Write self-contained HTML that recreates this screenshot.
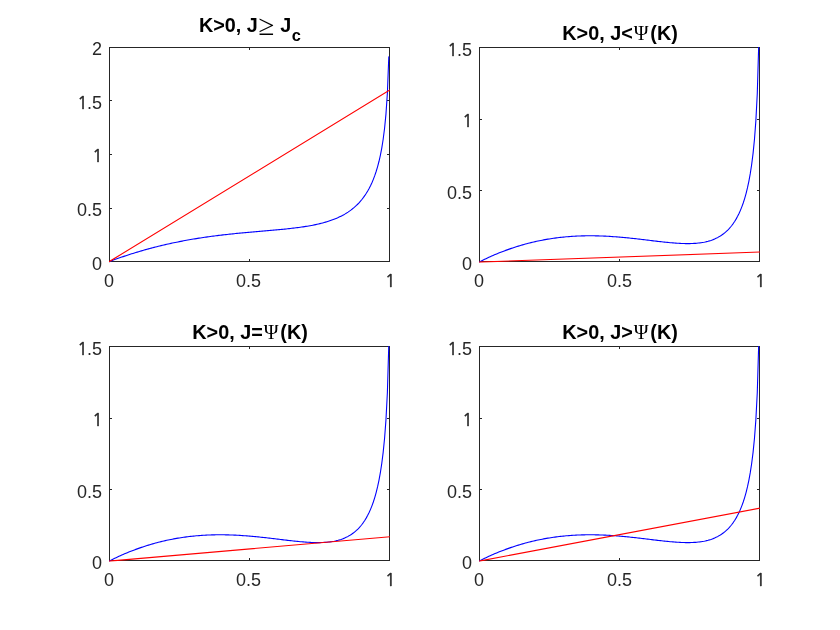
<!DOCTYPE html><html><head><meta charset="utf-8"><title>figure</title><style>
html,body{margin:0;padding:0;background:#fff;}
svg{display:block;}
text{font-family:"Liberation Sans",sans-serif;fill:#262626;}
.t{font-size:18px;}
.one{font-family:"NanumGothic","Liberation Sans",sans-serif;font-size:17.3px;stroke:#262626;stroke-width:0.5px;}
.ti{font-size:19.8px;font-weight:bold;fill:#000;}
.psi{font-family:"Liberation Serif","DejaVu Serif",serif;font-weight:normal;font-size:20px;fill:#000;}
.geq{font-family:"Liberation Serif","DejaVu Serif",serif;font-weight:normal;font-size:29px;fill:#000;}
.sub{font-size:16.4px;font-weight:bold;fill:#000;}
</style></head><body>
<svg width="840" height="630" viewBox="0 0 840 630">
<rect x="0" y="0" width="840" height="630" fill="#fff"/>
<clipPath id="c1"><rect x="109.0" y="47.0" width="281.0" height="215.7"/></clipPath>
<g stroke="#262626" stroke-width="1" fill="none">
<rect x="109.5" y="47.5" width="280.0" height="214.0"/>
<path d="M249.5 261.5 v-2.5 M249.5 47.5 v2.5 M109.5 208.5 h2.5 M389.5 208.5 h-2.5 M109.5 154.5 h2.5 M389.5 154.5 h-2.5 M109.5 100.5 h2.5 M389.5 100.5 h-2.5"/>
</g>
<g clip-path="url(#c1)" fill="none" stroke-width="1.1" stroke-linejoin="round" stroke-linecap="round">
<polyline points="109.10,261.70 110.51,261.17 111.91,260.64 113.32,260.11 114.72,259.60 116.13,259.09 117.53,258.58 118.94,258.08 120.34,257.59 121.75,257.10 123.16,256.62 124.56,256.14 125.97,255.67 127.37,255.20 128.78,254.74 130.18,254.29 131.59,253.84 132.99,253.40 134.40,252.96 135.80,252.53 137.21,252.10 138.62,251.68 140.02,251.26 141.43,250.85 142.83,250.44 144.24,250.04 145.64,249.65 147.05,249.26 148.45,248.87 149.86,248.49 151.26,248.12 152.67,247.75 154.08,247.38 155.48,247.02 156.89,246.67 158.29,246.32 159.70,245.97 161.10,245.63 162.51,245.30 163.91,244.97 165.32,244.64 166.73,244.32 168.13,244.00 169.54,243.69 170.94,243.38 172.35,243.08 173.75,242.78 175.16,242.49 176.56,242.20 177.97,241.92 179.38,241.64 180.78,241.36 182.19,241.09 183.59,240.82 185.00,240.56 186.40,240.30 187.81,240.05 189.21,239.80 190.62,239.55 192.02,239.31 193.43,239.07 194.84,238.84 196.24,238.61 197.65,238.38 199.05,238.16 200.46,237.94 201.86,237.73 203.27,237.52 204.67,237.31 206.08,237.11 207.49,236.91 208.89,236.71 210.30,236.51 211.70,236.32 213.11,236.14 214.51,235.95 215.92,235.77 217.32,235.60 218.73,235.42 220.13,235.25 221.54,235.08 222.95,234.92 224.35,234.75 225.76,234.59 227.16,234.44 228.57,234.28 229.97,234.13 231.38,233.98 232.78,233.83 234.19,233.69 235.60,233.55 237.00,233.40 238.41,233.27 239.81,233.13 241.22,232.99 242.62,232.86 244.03,232.73 245.43,232.60 246.84,232.47 248.24,232.34 249.65,232.22 251.06,232.09 252.46,231.97 253.87,231.85 255.27,231.72 256.68,231.60 258.08,231.48 259.49,231.36 260.89,231.24 262.30,231.12 263.71,231.00 265.11,230.88 266.52,230.76 267.92,230.64 269.33,230.52 270.73,230.39 272.14,230.27 273.54,230.15 274.95,230.02 276.35,229.89 277.76,229.76 279.17,229.63 280.57,229.50 281.98,229.36 283.38,229.22 284.79,229.08 286.19,228.94 287.60,228.79 289.00,228.64 290.41,228.48 291.82,228.32 293.22,228.16 294.63,227.99 296.03,227.81 297.44,227.63 298.84,227.45 300.25,227.26 301.65,227.06 303.06,226.85 304.46,226.64 305.87,226.41 307.28,226.18 308.68,225.94 310.09,225.70 311.49,225.44 312.90,225.17 314.30,224.88 315.71,224.59 317.11,224.28 318.52,223.96 319.93,223.63 321.33,223.28 322.74,222.92 324.14,222.53 325.55,222.13 326.95,221.71 328.36,221.27 329.76,220.81 331.17,220.33 332.57,219.82 333.98,219.29 335.39,218.73 336.79,218.14 338.20,217.52 339.60,216.86 341.01,216.17 342.41,215.45 343.82,214.68 345.22,213.87 346.63,213.01 348.03,212.11 349.44,211.15 350.85,210.13 352.25,209.05 353.66,207.91 355.06,206.69 356.47,205.39 357.87,204.00 359.28,202.52 360.68,200.93 362.09,199.23 363.50,197.40 364.90,195.43 366.31,193.29 367.71,190.98 369.12,188.46 370.52,185.71 371.93,182.69 373.33,179.36 374.74,175.66 376.14,171.52 377.55,166.85 378.96,161.51 380.36,155.34 381.77,148.06 383.17,139.28 384.58,128.30 385.98,113.87 387.39,93.11 388.79,56.90" stroke="#0000ff"/>
<polyline points="109.10,261.70 390.20,89.73" stroke="#ff0000"/>
</g>
<text class="t" x="104.0" y="287.0">0</text>
<text class="t" x="235.99" y="287.0">0.5</text>
<text class="one" x="385.0" y="287.0">1</text>
<text class="t" x="91.99" y="270.0">0</text>
<text class="t" x="76.98" y="216.0">0.5</text>
<text class="one" x="92.19" y="162.0">1</text>
<text class="one" x="77.18" y="109.0">1</text>
<text class="t" x="86.99" y="109.0">.5</text>
<text class="t" x="91.99" y="55.0">2</text>
<text class="ti" x="199.0" y="31.8">K&gt;0, J</text>
<text class="geq" x="258.6" y="35">≥</text>
<text class="ti" x="280.2" y="31.8">J</text>
<text class="sub" x="291.7" y="40.8">c</text>
<clipPath id="c2"><rect x="479.0" y="47.0" width="281.0" height="215.7"/></clipPath>
<g stroke="#262626" stroke-width="1" fill="none">
<rect x="479.5" y="47.5" width="280.0" height="214.0"/>
<path d="M619.5 261.5 v-2.5 M619.5 47.5 v2.5 M479.5 190.5 h2.5 M759.5 190.5 h-2.5 M479.5 119.5 h2.5 M759.5 119.5 h-2.5"/>
</g>
<g clip-path="url(#c2)" fill="none" stroke-width="1.1" stroke-linejoin="round" stroke-linecap="round">
<polyline points="479.00,262.10 480.41,261.39 481.81,260.69 483.22,260.00 484.62,259.32 486.03,258.65 487.43,257.99 488.84,257.35 490.24,256.71 491.65,256.08 493.06,255.47 494.46,254.86 495.87,254.27 497.27,253.68 498.68,253.11 500.08,252.54 501.49,251.99 502.89,251.44 504.30,250.91 505.70,250.38 507.11,249.87 508.52,249.37 509.92,248.87 511.33,248.39 512.73,247.92 514.14,247.45 515.54,247.00 516.95,246.55 518.35,246.12 519.76,245.69 521.16,245.28 522.57,244.87 523.98,244.48 525.38,244.09 526.79,243.71 528.19,243.34 529.60,242.99 531.00,242.64 532.41,242.30 533.81,241.97 535.22,241.65 536.63,241.33 538.03,241.03 539.44,240.74 540.84,240.45 542.25,240.18 543.65,239.91 545.06,239.65 546.46,239.40 547.87,239.16 549.27,238.93 550.68,238.71 552.09,238.50 553.49,238.29 554.90,238.09 556.30,237.91 557.71,237.73 559.11,237.55 560.52,237.39 561.92,237.24 563.33,237.09 564.74,236.95 566.14,236.82 567.55,236.70 568.95,236.58 570.36,236.48 571.76,236.38 573.17,236.29 574.57,236.21 575.98,236.13 577.38,236.06 578.79,236.00 580.20,235.95 581.60,235.90 583.01,235.86 584.41,235.83 585.82,235.81 587.22,235.79 588.63,235.78 590.03,235.78 591.44,235.78 592.85,235.79 594.25,235.81 595.66,235.83 597.06,235.86 598.47,235.90 599.87,235.94 601.28,235.99 602.68,236.04 604.09,236.10 605.50,236.17 606.90,236.24 608.31,236.32 609.71,236.40 611.12,236.49 612.52,236.58 613.93,236.68 615.33,236.78 616.74,236.89 618.14,237.00 619.55,237.12 620.96,237.24 622.36,237.37 623.77,237.50 625.17,237.63 626.58,237.77 627.98,237.91 629.39,238.06 630.79,238.20 632.20,238.35 633.61,238.51 635.01,238.66 636.42,238.82 637.82,238.98 639.23,239.15 640.63,239.31 642.04,239.48 643.44,239.64 644.85,239.81 646.25,239.98 647.66,240.15 649.07,240.32 650.47,240.49 651.88,240.66 653.28,240.83 654.69,241.00 656.09,241.17 657.50,241.33 658.90,241.50 660.31,241.66 661.72,241.82 663.12,241.97 664.53,242.12 665.93,242.27 667.34,242.41 668.74,242.55 670.15,242.68 671.55,242.81 672.96,242.92 674.36,243.04 675.77,243.14 677.18,243.24 678.58,243.32 679.99,243.40 681.39,243.46 682.80,243.52 684.20,243.56 685.61,243.59 687.01,243.60 688.42,243.60 689.83,243.58 691.23,243.55 692.64,243.50 694.04,243.42 695.45,243.33 696.85,243.21 698.26,243.07 699.66,242.91 701.07,242.71 702.47,242.49 703.88,242.24 705.29,241.95 706.69,241.62 708.10,241.26 709.50,240.86 710.91,240.41 712.31,239.92 713.72,239.37 715.12,238.77 716.53,238.12 717.93,237.39 719.34,236.60 720.75,235.74 722.15,234.80 723.56,233.76 724.96,232.64 726.37,231.41 727.77,230.07 729.18,228.60 730.58,226.99 731.99,225.24 733.40,223.32 734.80,221.20 736.21,218.88 737.61,216.32 739.02,213.50 740.42,210.36 741.83,206.87 743.23,202.96 744.64,198.57 746.05,193.59 747.45,187.91 748.86,181.35 750.26,173.66 751.67,164.52 753.07,153.36 754.48,139.29 755.88,120.61 757.29,93.50 758.69,45.79" stroke="#0000ff"/>
<polyline points="479.00,262.10 760.10,252.07" stroke="#ff0000"/>
</g>
<text class="t" x="474.0" y="287.0">0</text>
<text class="t" x="606.99" y="287.0">0.5</text>
<text class="one" x="755.0" y="287.0">1</text>
<text class="t" x="461.99" y="270.0">0</text>
<text class="t" x="446.98" y="199.0">0.5</text>
<text class="one" x="462.19" y="127.0">1</text>
<text class="one" x="447.18" y="56.0">1</text>
<text class="t" x="456.99" y="56.0">.5</text>
<text class="ti" x="562.3" y="39.8">K&gt;0, J&lt;</text>
<text class="psi" x="633.7" y="39.699999999999996">Ψ</text>
<text class="ti" x="650.3" y="39.8">(K)</text>
<clipPath id="c3"><rect x="109.0" y="346.0" width="281.0" height="215.7"/></clipPath>
<g stroke="#262626" stroke-width="1" fill="none">
<rect x="109.5" y="346.5" width="280.0" height="214.0"/>
<path d="M249.5 560.5 v-2.5 M249.5 346.5 v2.5 M109.5 489.5 h2.5 M389.5 489.5 h-2.5 M109.5 418.5 h2.5 M389.5 418.5 h-2.5"/>
</g>
<g clip-path="url(#c3)" fill="none" stroke-width="1.1" stroke-linejoin="round" stroke-linecap="round">
<polyline points="109.10,561.10 110.51,560.39 111.91,559.69 113.32,559.00 114.72,558.32 116.13,557.65 117.53,556.99 118.94,556.35 120.34,555.71 121.75,555.08 123.16,554.47 124.56,553.86 125.97,553.27 127.37,552.68 128.78,552.11 130.18,551.54 131.59,550.99 132.99,550.44 134.40,549.91 135.80,549.38 137.21,548.87 138.62,548.37 140.02,547.87 141.43,547.39 142.83,546.92 144.24,546.45 145.64,546.00 147.05,545.55 148.45,545.12 149.86,544.69 151.26,544.28 152.67,543.87 154.08,543.48 155.48,543.09 156.89,542.71 158.29,542.34 159.70,541.99 161.10,541.64 162.51,541.30 163.91,540.97 165.32,540.65 166.73,540.33 168.13,540.03 169.54,539.74 170.94,539.45 172.35,539.18 173.75,538.91 175.16,538.65 176.56,538.40 177.97,538.16 179.38,537.93 180.78,537.71 182.19,537.50 183.59,537.29 185.00,537.09 186.40,536.91 187.81,536.73 189.21,536.55 190.62,536.39 192.02,536.24 193.43,536.09 194.84,535.95 196.24,535.82 197.65,535.70 199.05,535.58 200.46,535.48 201.86,535.38 203.27,535.29 204.67,535.21 206.08,535.13 207.49,535.06 208.89,535.00 210.30,534.95 211.70,534.90 213.11,534.86 214.51,534.83 215.92,534.81 217.32,534.79 218.73,534.78 220.13,534.78 221.54,534.78 222.95,534.79 224.35,534.81 225.76,534.83 227.16,534.86 228.57,534.90 229.97,534.94 231.38,534.99 232.78,535.04 234.19,535.10 235.60,535.17 237.00,535.24 238.41,535.32 239.81,535.40 241.22,535.49 242.62,535.58 244.03,535.68 245.43,535.78 246.84,535.89 248.24,536.00 249.65,536.12 251.06,536.24 252.46,536.37 253.87,536.50 255.27,536.63 256.68,536.77 258.08,536.91 259.49,537.06 260.89,537.20 262.30,537.35 263.71,537.51 265.11,537.66 266.52,537.82 267.92,537.98 269.33,538.15 270.73,538.31 272.14,538.48 273.54,538.64 274.95,538.81 276.35,538.98 277.76,539.15 279.17,539.32 280.57,539.49 281.98,539.66 283.38,539.83 284.79,540.00 286.19,540.17 287.60,540.33 289.00,540.50 290.41,540.66 291.82,540.82 293.22,540.97 294.63,541.12 296.03,541.27 297.44,541.41 298.84,541.55 300.25,541.68 301.65,541.81 303.06,541.92 304.46,542.04 305.87,542.14 307.28,542.24 308.68,542.32 310.09,542.40 311.49,542.46 312.90,542.52 314.30,542.56 315.71,542.59 317.11,542.60 318.52,542.60 319.93,542.58 321.33,542.55 322.74,542.50 324.14,542.42 325.55,542.33 326.95,542.21 328.36,542.07 329.76,541.91 331.17,541.71 332.57,541.49 333.98,541.24 335.39,540.95 336.79,540.62 338.20,540.26 339.60,539.86 341.01,539.41 342.41,538.92 343.82,538.37 345.22,537.77 346.63,537.12 348.03,536.39 349.44,535.60 350.85,534.74 352.25,533.80 353.66,532.76 355.06,531.64 356.47,530.41 357.87,529.07 359.28,527.60 360.68,525.99 362.09,524.24 363.50,522.32 364.90,520.20 366.31,517.88 367.71,515.32 369.12,512.50 370.52,509.36 371.93,505.87 373.33,501.96 374.74,497.57 376.14,492.59 377.55,486.91 378.96,480.35 380.36,472.66 381.77,463.52 383.17,452.36 384.58,438.29 385.98,419.61 387.39,392.50 388.79,344.79" stroke="#0000ff"/>
<polyline points="109.10,561.10 390.20,536.74" stroke="#ff0000"/>
</g>
<text class="t" x="104.0" y="586.0">0</text>
<text class="t" x="235.99" y="586.0">0.5</text>
<text class="one" x="385.0" y="586.0">1</text>
<text class="t" x="91.99" y="569.0">0</text>
<text class="t" x="76.98" y="498.0">0.5</text>
<text class="one" x="92.19" y="426.0">1</text>
<text class="one" x="77.18" y="355.0">1</text>
<text class="t" x="86.99" y="355.0">.5</text>
<text class="ti" x="192.29999999999995" y="338.8">K&gt;0, J=</text>
<text class="psi" x="263.70000000000005" y="338.7">Ψ</text>
<text class="ti" x="280.29999999999995" y="338.8">(K)</text>
<clipPath id="c4"><rect x="479.0" y="346.0" width="281.0" height="215.7"/></clipPath>
<g stroke="#262626" stroke-width="1" fill="none">
<rect x="479.5" y="346.5" width="280.0" height="214.0"/>
<path d="M619.5 560.5 v-2.5 M619.5 346.5 v2.5 M479.5 489.5 h2.5 M759.5 489.5 h-2.5 M479.5 418.5 h2.5 M759.5 418.5 h-2.5"/>
</g>
<g clip-path="url(#c4)" fill="none" stroke-width="1.1" stroke-linejoin="round" stroke-linecap="round">
<polyline points="479.00,561.10 480.41,560.39 481.81,559.69 483.22,559.00 484.62,558.32 486.03,557.65 487.43,556.99 488.84,556.35 490.24,555.71 491.65,555.08 493.06,554.47 494.46,553.86 495.87,553.27 497.27,552.68 498.68,552.11 500.08,551.54 501.49,550.99 502.89,550.44 504.30,549.91 505.70,549.38 507.11,548.87 508.52,548.37 509.92,547.87 511.33,547.39 512.73,546.92 514.14,546.45 515.54,546.00 516.95,545.55 518.35,545.12 519.76,544.69 521.16,544.28 522.57,543.87 523.98,543.48 525.38,543.09 526.79,542.71 528.19,542.34 529.60,541.99 531.00,541.64 532.41,541.30 533.81,540.97 535.22,540.65 536.63,540.33 538.03,540.03 539.44,539.74 540.84,539.45 542.25,539.18 543.65,538.91 545.06,538.65 546.46,538.40 547.87,538.16 549.27,537.93 550.68,537.71 552.09,537.50 553.49,537.29 554.90,537.09 556.30,536.91 557.71,536.73 559.11,536.55 560.52,536.39 561.92,536.24 563.33,536.09 564.74,535.95 566.14,535.82 567.55,535.70 568.95,535.58 570.36,535.48 571.76,535.38 573.17,535.29 574.57,535.21 575.98,535.13 577.38,535.06 578.79,535.00 580.20,534.95 581.60,534.90 583.01,534.86 584.41,534.83 585.82,534.81 587.22,534.79 588.63,534.78 590.03,534.78 591.44,534.78 592.85,534.79 594.25,534.81 595.66,534.83 597.06,534.86 598.47,534.90 599.87,534.94 601.28,534.99 602.68,535.04 604.09,535.10 605.50,535.17 606.90,535.24 608.31,535.32 609.71,535.40 611.12,535.49 612.52,535.58 613.93,535.68 615.33,535.78 616.74,535.89 618.14,536.00 619.55,536.12 620.96,536.24 622.36,536.37 623.77,536.50 625.17,536.63 626.58,536.77 627.98,536.91 629.39,537.06 630.79,537.20 632.20,537.35 633.61,537.51 635.01,537.66 636.42,537.82 637.82,537.98 639.23,538.15 640.63,538.31 642.04,538.48 643.44,538.64 644.85,538.81 646.25,538.98 647.66,539.15 649.07,539.32 650.47,539.49 651.88,539.66 653.28,539.83 654.69,540.00 656.09,540.17 657.50,540.33 658.90,540.50 660.31,540.66 661.72,540.82 663.12,540.97 664.53,541.12 665.93,541.27 667.34,541.41 668.74,541.55 670.15,541.68 671.55,541.81 672.96,541.92 674.36,542.04 675.77,542.14 677.18,542.24 678.58,542.32 679.99,542.40 681.39,542.46 682.80,542.52 684.20,542.56 685.61,542.59 687.01,542.60 688.42,542.60 689.83,542.58 691.23,542.55 692.64,542.50 694.04,542.42 695.45,542.33 696.85,542.21 698.26,542.07 699.66,541.91 701.07,541.71 702.47,541.49 703.88,541.24 705.29,540.95 706.69,540.62 708.10,540.26 709.50,539.86 710.91,539.41 712.31,538.92 713.72,538.37 715.12,537.77 716.53,537.12 717.93,536.39 719.34,535.60 720.75,534.74 722.15,533.80 723.56,532.76 724.96,531.64 726.37,530.41 727.77,529.07 729.18,527.60 730.58,525.99 731.99,524.24 733.40,522.32 734.80,520.20 736.21,517.88 737.61,515.32 739.02,512.50 740.42,509.36 741.83,505.87 743.23,501.96 744.64,497.57 746.05,492.59 747.45,486.91 748.86,480.35 750.26,472.66 751.67,463.52 753.07,452.36 754.48,438.29 755.88,419.61 757.29,392.50 758.69,344.79" stroke="#0000ff"/>
<polyline points="479.00,561.10 760.10,508.08" stroke="#ff0000"/>
</g>
<text class="t" x="474.0" y="586.0">0</text>
<text class="t" x="606.99" y="586.0">0.5</text>
<text class="one" x="755.0" y="586.0">1</text>
<text class="t" x="461.99" y="569.0">0</text>
<text class="t" x="446.98" y="498.0">0.5</text>
<text class="one" x="462.19" y="426.0">1</text>
<text class="one" x="447.18" y="355.0">1</text>
<text class="t" x="456.99" y="355.0">.5</text>
<text class="ti" x="562.3" y="338.8">K&gt;0, J&gt;</text>
<text class="psi" x="633.7" y="338.7">Ψ</text>
<text class="ti" x="650.3" y="338.8">(K)</text>
</svg></body></html>
